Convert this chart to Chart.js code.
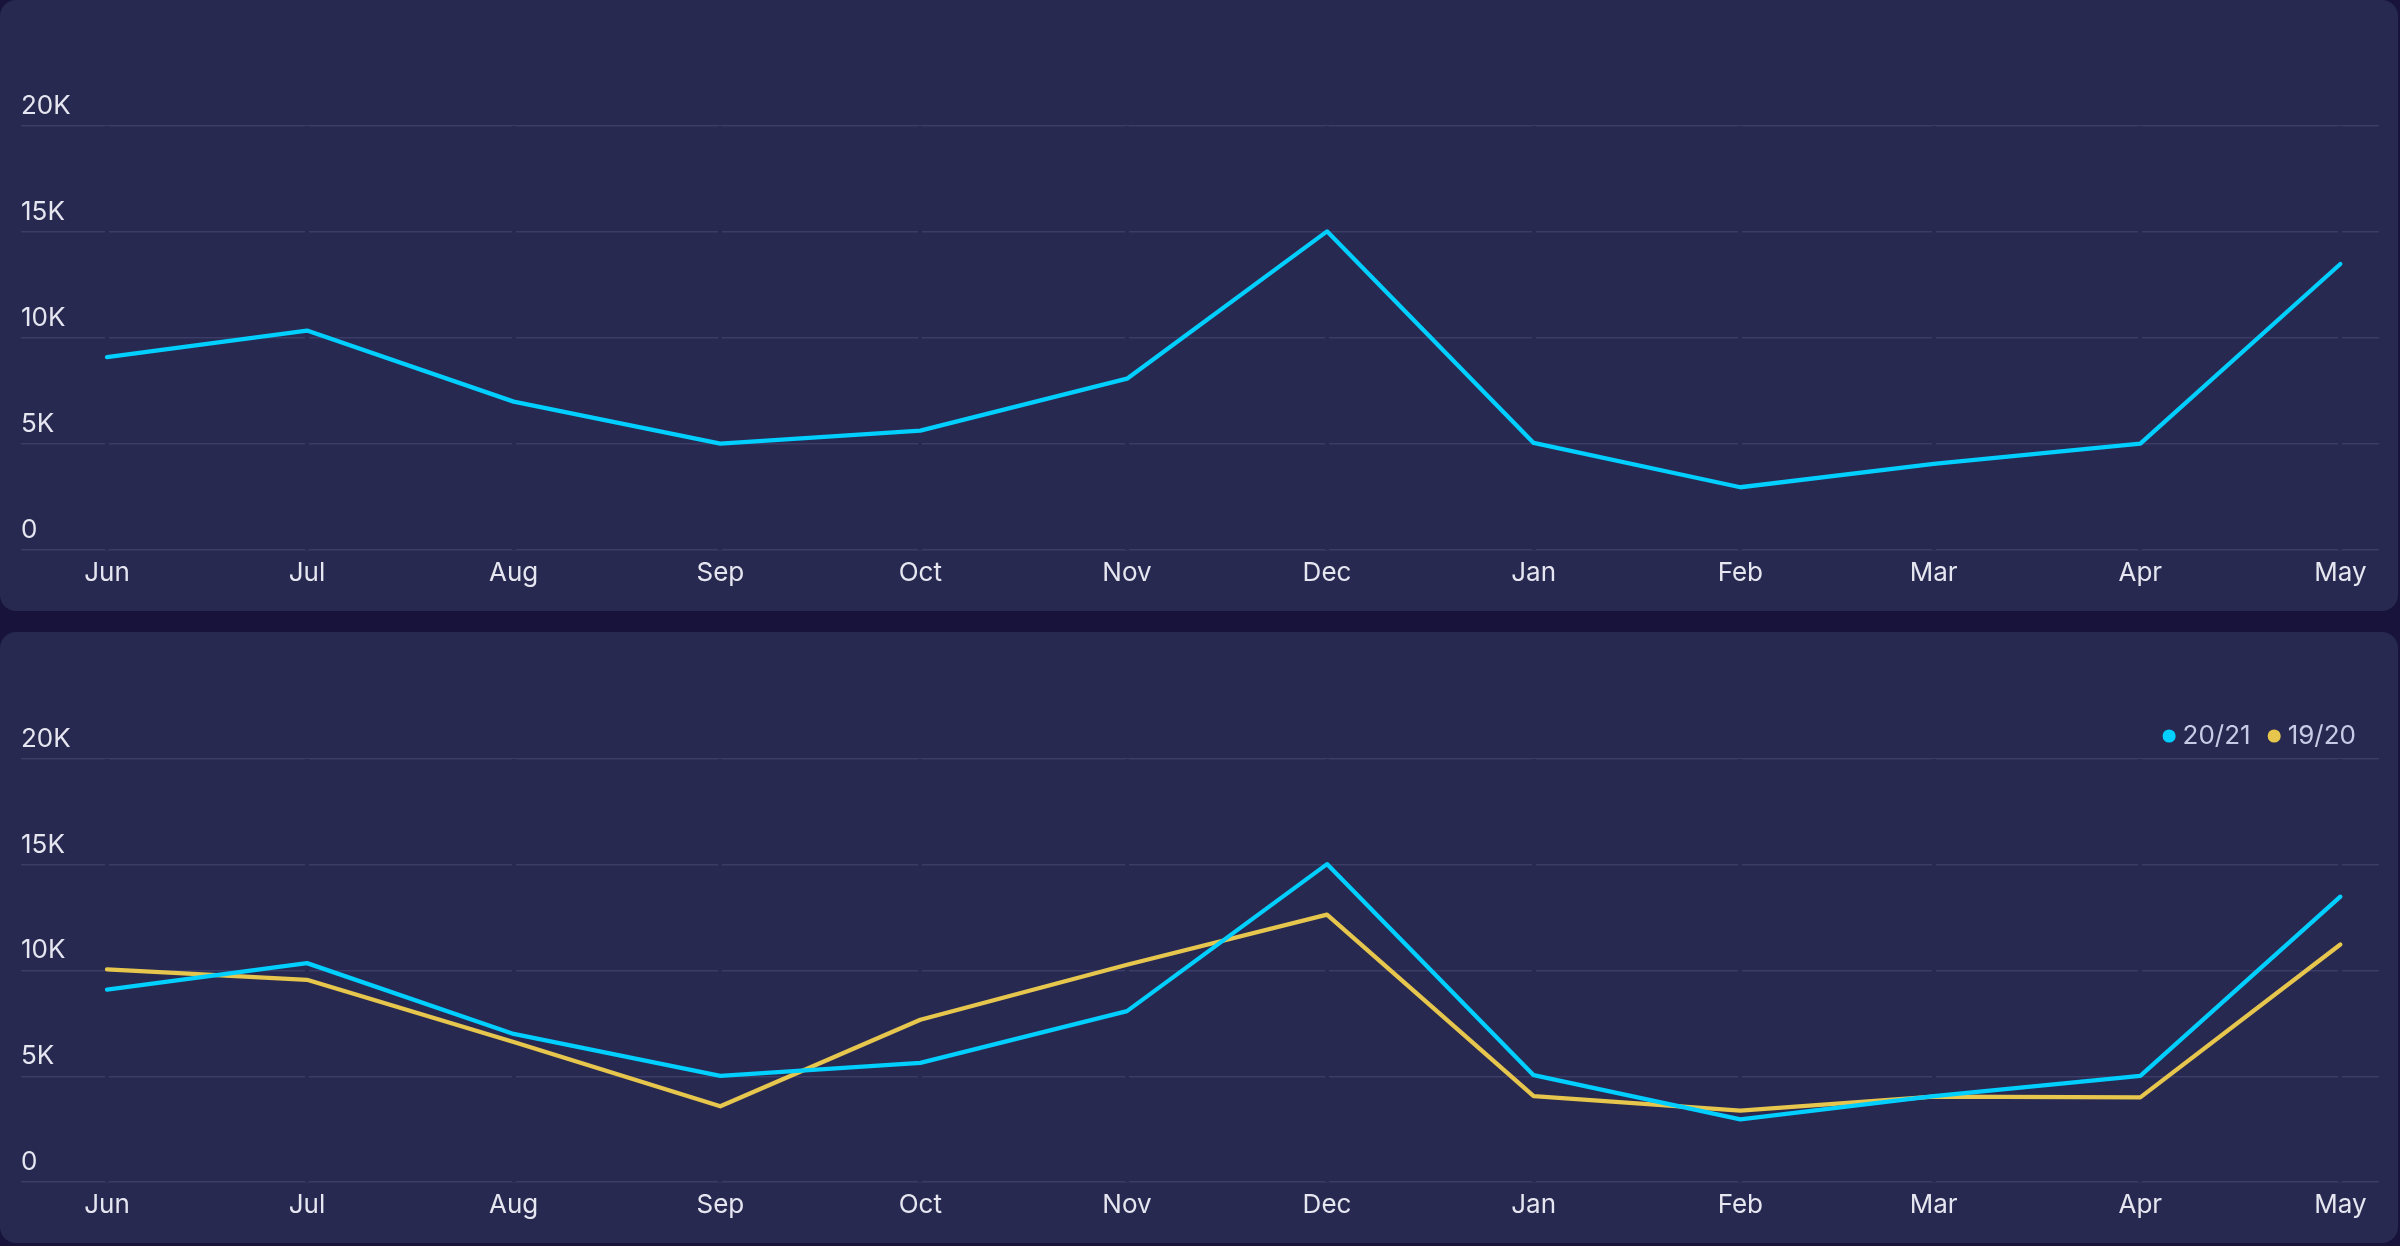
<!DOCTYPE html>
<html>
<head>
<meta charset="utf-8">
<script src="https://cdn.jsdelivr.net/npm/chart.js@4.4.1/dist/chart.umd.min.js"></script>
<style>
  html, body { margin: 0; padding: 0; background: #17133b; width: 2400px; height: 1246px; overflow: hidden; }
  .panel { position: absolute; left: 0; width: 2398px; height: 611px; background: #272951; border-radius: 16px; overflow: hidden; }
  #p1 { top: 0; }
  #p2 { top: 632px; }
</style>
</head>
<body>
<div class="panel" id="p1"><canvas id="c1"></canvas></div>
<div class="panel" id="p2"><canvas id="c2"></canvas></div>
<script>
// ---- data ----
const months = ['Jun','Jul','Aug','Sep','Oct','Nov','Dec','Jan','Feb','Mar','Apr','May'];
const monthDates = [
  [2019,5],[2019,6],[2019,7],[2019,8],[2019,9],[2019,10],[2019,11],
  [2020,0],[2020,1],[2020,2],[2020,3],[2020,4]
];
const series2021 = [9100, 10350, 7000, 5020, 5630, 8080, 15030, 5050, 2960, 4060, 5020, 13490];
const series1920 = [10050, 9560, 6620, 3580, 7670, 10270, 12640, 4060, 3370, 4040, 4000, 11230];
const seriesNames = ['20/21', '19/20'];
const yTickValues = [0, 5000, 10000, 15000, 20000];
const yTickLabels = ['0', '5K', '10K', '15K', '20K'];

// ---- styling ----
const panelBg = '#272951';
const gridColor = '#3b3d66';
const cyan = '#00cfff';
const yellow = '#e6c64d';
const textColor = '#e6e6f0';
const legendColor = '#c9cbe6';
const fontFamily = 'Inter, "Noto Sans", sans-serif';

// day offsets of each month start, relative to the first month
const day0 = Date.UTC(monthDates[0][0], monthDates[0][1], 1);
const monthX = monthDates.map(([y, m]) => (Date.UTC(y, m, 1) - day0) / 86400000);

function toPoints(values) {
  return values.map((v, i) => ({ x: monthX[i], y: v }));
}

function makeChart(canvasId, datasets, showLegend, padTop) {
  return new Chart(document.getElementById(canvasId), {
    type: 'line',
    data: { datasets },
    options: {
      responsive: true,
      maintainAspectRatio: false,
      animation: false,
      events: [],
      layout: { padding: { top: padTop, left: 21, right: 19, bottom: 13.8 } },
      elements: {
        point: { radius: 0 },
        line: { tension: 0, borderWidth: 4.3, borderCapStyle: 'round', borderJoinStyle: 'round' }
      },
      plugins: {
        tooltip: { enabled: false },
        legend: {
          display: showLegend,
          position: 'top',
          align: 'end',
          labels: {
            usePointStyle: true,
            pointStyle: 'circle',
            boxWidth: 1,
            boxHeight: 9.3,
            padding: 23,
            color: legendColor,
            font: { family: fontFamily, size: 26 },
            generateLabels: (chart) => Chart.defaults.plugins.legend.labels.generateLabels(chart)
              .map(l => Object.assign(l, { lineWidth: 0 }))
          }
        }
      },
      scales: {
        y: {
          type: 'linear',
          min: 0,
          max: 20000,
          afterBuildTicks: (axis) => { axis.ticks = yTickValues.map(v => ({ value: v })); },
          border: { display: false },
          grid: { color: gridColor, lineWidth: 1.5, drawTicks: false, z: -2 },
          ticks: {
            mirror: true,
            padding: 0,
            labelOffset: -20,
            color: textColor,
            font: { family: fontFamily, size: 26 },
            callback: (v, i) => yTickLabels[i]
          }
        },
        x: {
          type: 'linear',
          min: -12.9,
          max: 340.8,
          afterBuildTicks: (axis) => { axis.ticks = monthX.map(v => ({ value: v })); },
          border: { display: false },
          grid: { color: panelBg, lineWidth: 4, drawTicks: false, z: -1 },
          ticks: {
            autoSkip: false,
            maxRotation: 0,
            padding: 8,
            color: textColor,
            font: { family: fontFamily, size: 26 },
            callback: (v, i) => months[i]
          }
        }
      }
    }
  });
}

makeChart('c1', [
  { label: seriesNames[0], data: toPoints(series2021), borderColor: cyan, backgroundColor: cyan }
], false, 126);

makeChart('c2', [
  { label: seriesNames[0], data: toPoints(series2021), borderColor: cyan, backgroundColor: cyan },
  { label: seriesNames[1], data: toPoints(series1920), borderColor: yellow, backgroundColor: yellow }
], true, 68);
</script>
</body>
</html>
